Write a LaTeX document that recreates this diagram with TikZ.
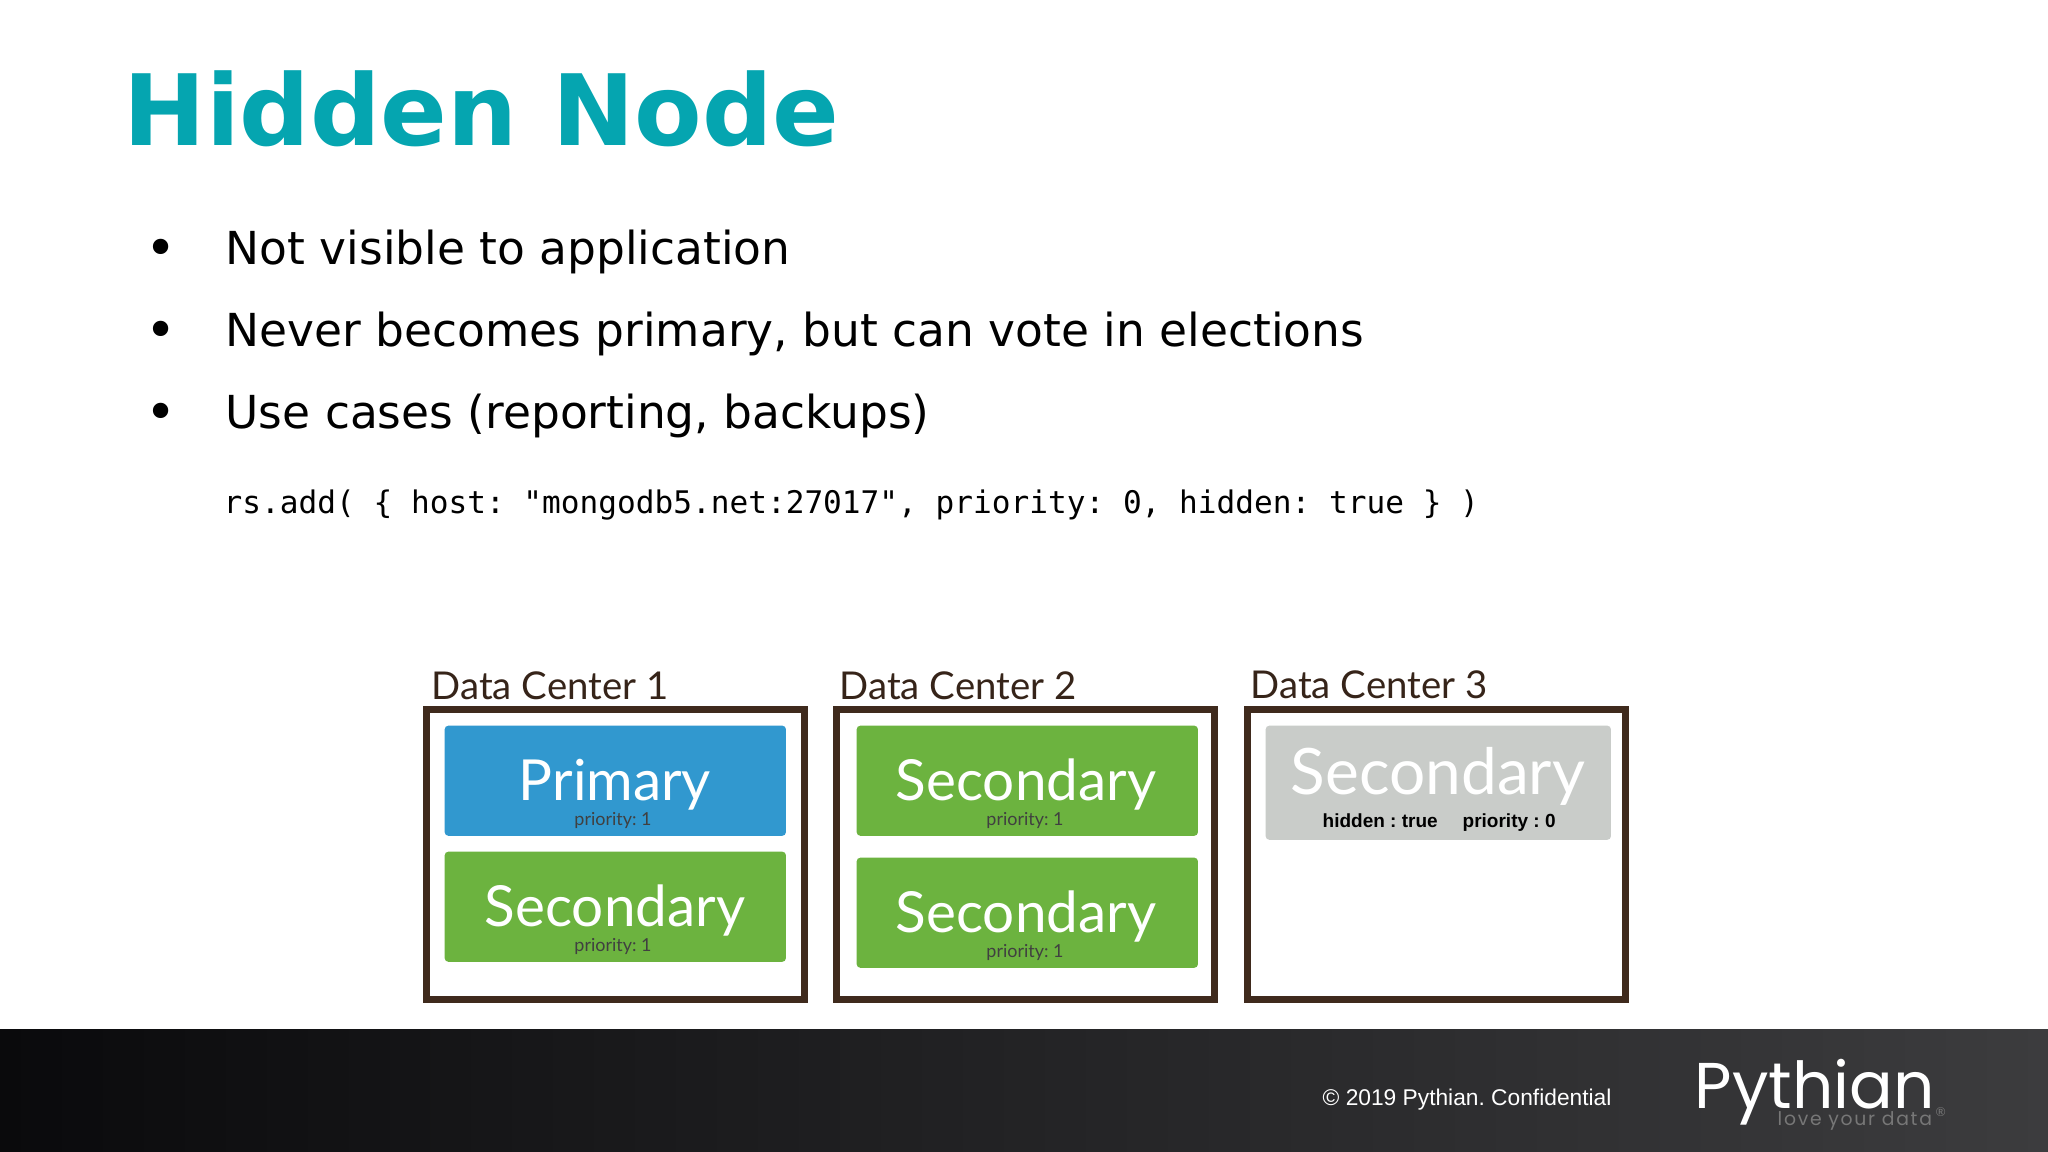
\documentclass[tikz,border=0pt]{standalone}
\usepackage{fontspec}
\setmainfont{DejaVu Sans}
\setmonofont{DejaVu Sans Mono}
\newfontfamily\dcfont{Lato}
\newfontfamily\arialfont{Liberation Sans}
\newfontfamily\logofont{Poppins}
\newfontfamily\tagfont[LetterSpace=9]{Poppins}
\definecolor{titleteal}{HTML}{05A5B0}
\definecolor{dcbrown}{HTML}{3F2A1D}
\definecolor{dcblue}{HTML}{3198CF}
\definecolor{dcgreen}{HTML}{6CB33F}
\definecolor{dcgrey}{HTML}{C9CCC9}
\definecolor{footleft}{HTML}{0A0A0C}
\definecolor{footmid}{HTML}{1E1E21}
\definecolor{footright}{HTML}{3C3C3E}
\definecolor{taggrey}{HTML}{777777}
\tikzset{
	txt/.style={inner sep=0pt, anchor=base west},
	bullettxt/.style={txt, font=\fontsize{12.93}{16}\selectfont},
	bulletdot/.style={txt, font=\fontsize{15}{18}\selectfont},
	dclabel/.style={txt, text=dcbrown!85!black, font=\dcfont\fontsize{10.9}{13}\selectfont},
	dcbox/.style={draw=dcbrown, line width=1.85pt, fill=white, inner sep=0pt, anchor=north west, minimum width=3.78cm, minimum height=2.9cm},
	member/.style={rounded corners=1pt, inner sep=0pt, anchor=north west, minimum width=3.41cm, minimum height=1.1cm},
	role/.style={inner sep=0pt, anchor=base, text=white, font=\dcfont\fontsize{16.1}{19}\selectfont},
	prio/.style={inner sep=0pt, anchor=base, text=black!75, font=\dcfont\fontsize{5.1}{6}\selectfont},
	hiddentxt/.style={txt, font=\arialfont\bfseries\fontsize{5.4}{6}\selectfont},
}
\begin{document}
\frenchspacing
\begin{tikzpicture}[x=0.01cm, y=-0.01cm]
	\useasboundingbox (0,0) rectangle (2048,1152);
	\shade[left color=footleft, middle color=footmid, right color=footright] (0,1029) rectangle (2048,1152);
	\node[txt, text=titleteal, font=\bfseries\fontsize{28}{34}\selectfont] (title) at (123,146) {Hidden Node};
	\node[bulletdot] (b1) at (145,267) {•};
	\node[bulletdot] (b2) at (145,349) {•};
	\node[bulletdot] (b3) at (145,431) {•};
	\node[bullettxt] (t1) at (225,265) {Not visible to application};
	\node[bullettxt] (t2) at (225,347) {Never becomes primary, but can vote in elections};
	\node[bullettxt] (t3) at (225,429) {Use cases (reporting, backups)};
	\node[txt, font=\ttfamily\fontsize{8.85}{11}\selectfont] (cmd) at (223,514) {rs.add( \{ host: "mongodb5.net:27017", priority: 0, hidden: true \} )};
	\node[dclabel] (l1) at (431,699) {Data Center 1};
	\node[dclabel] (l2) at (839,699) {Data Center 2};
	\node[dclabel] (l3) at (1250,698) {Data Center 3};
	\node[dcbox] (dc1) at (423,706) {};
	\node[dcbox] (dc2) at (833,706) {};
	\node[dcbox] (dc3) at (1244,706) {};
	\node[member, fill=dcblue] (m1) at (444,725) {};
	\node[member, fill=dcgreen] (m2) at (444,851) {};
	\node[member, fill=dcgreen] (m3) at (856,725) {};
	\node[member, fill=dcgreen] (m4) at (856,857) {};
	\node[member, fill=dcgrey, minimum width=3.45cm, minimum height=1.14cm] (m5) at (1265,725) {};
	\node[role] (r1) at (615,800) {Primary};
	\node[role] (r2) at (615,926) {Secondary};
	\node[role] (r3) at (1026,800) {Secondary};
	\node[role] (r4) at (1026,932) {Secondary};
	\node[role, font=\dcfont\fontsize{18.2}{22}\selectfont] (r5) at (1438,794) {Secondary};
	\node[prio] (p1) at (613,825) {priority: 1};
	\node[prio] (p2) at (613,951) {priority: 1};
	\node[prio] (p3) at (1025,825) {priority: 1};
	\node[prio] (p4) at (1025,957) {priority: 1};
	\node[hiddentxt] (h1) at (1322,827) {hidden : true};
	\node[hiddentxt] (h2) at (1462,827) {priority : 0};
	\node[txt, text=white, font=\arialfont\fontsize{6.47}{8}\selectfont] (copy) at (1322,1105) {© 2019 Pythian. Confidential};
	\node[txt, text=white, font=\logofont\fontsize{18.4}{22}\selectfont] (logo) at (1694,1108) {Pythian};
	\node[txt, text=taggrey, font=\tagfont\fontsize{5.35}{6}\selectfont] (tag) at (1777,1125) {love your data};
	\node[txt, text=taggrey, font=\dcfont\fontsize{3.5}{4}\selectfont] (reg) at (1935,1116) {®};
\end{tikzpicture}
\end{document}
